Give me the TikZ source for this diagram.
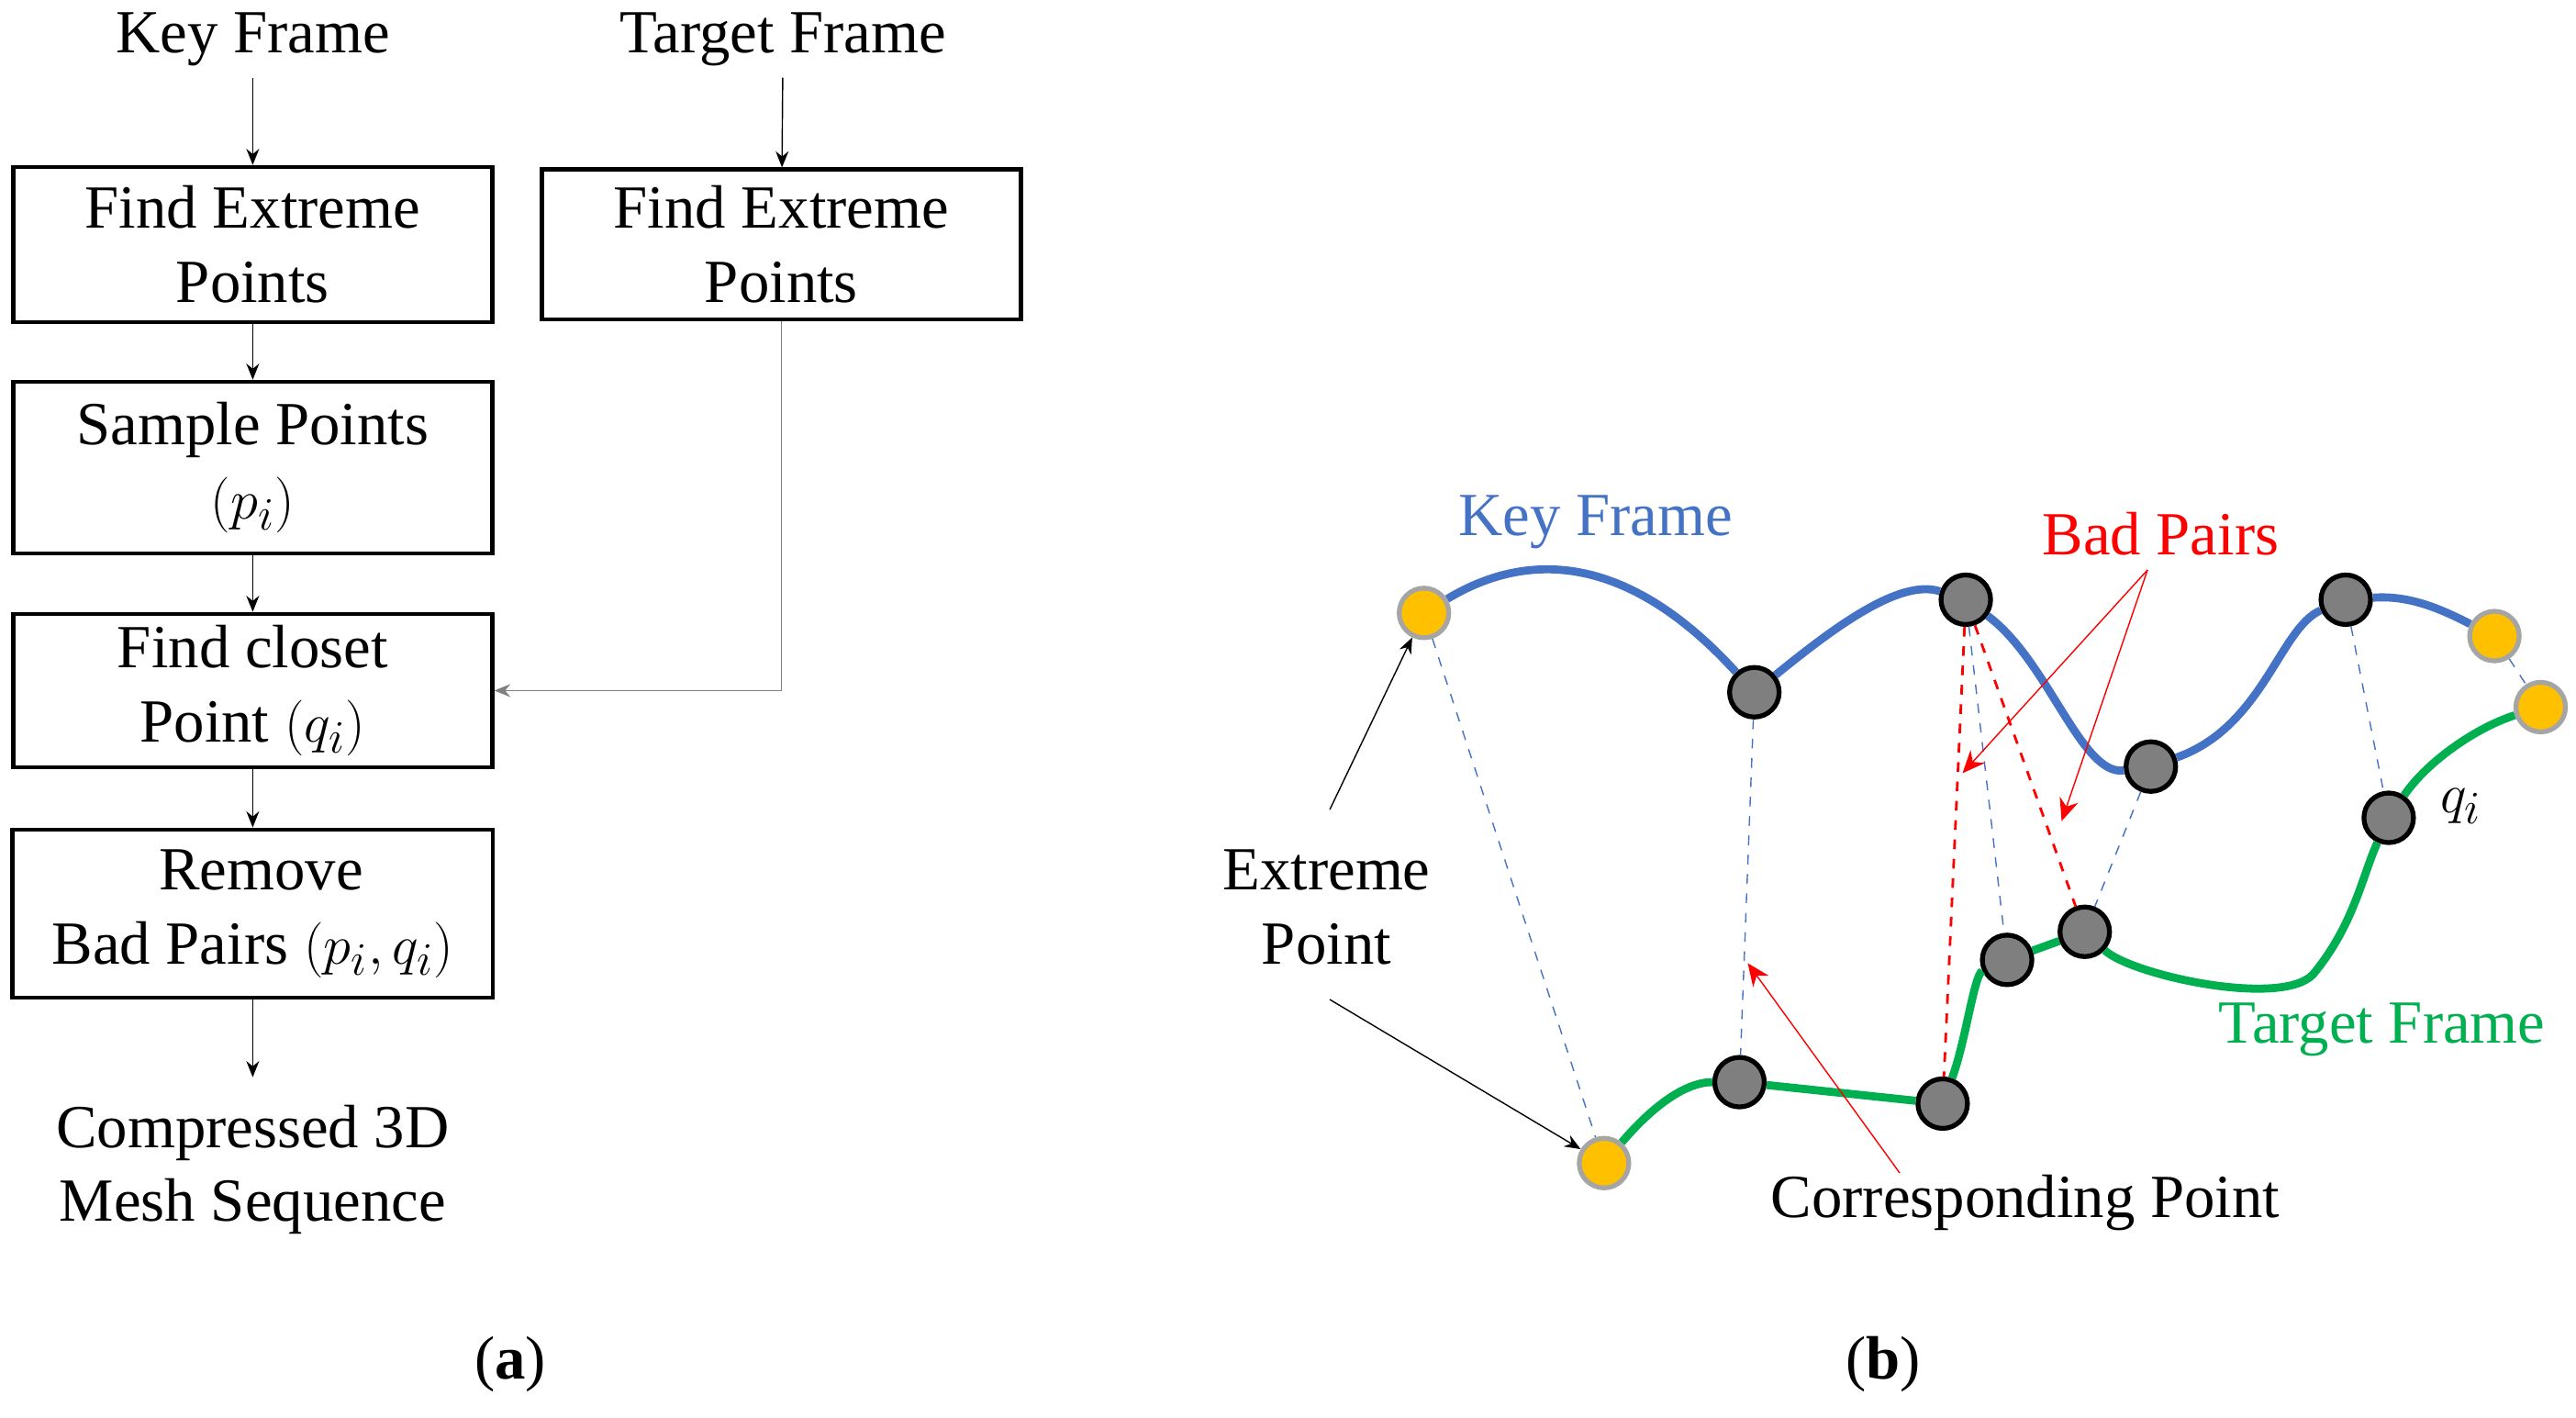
\documentclass[tikz,border=0pt]{standalone}
\usepackage{fontspec}
\setmainfont{Liberation Serif}
\newfontfamily\tnr{Liberation Serif}
\usetikzlibrary{arrows.meta}
\begin{document}
\begin{tikzpicture}[x=0.018cm,y=-0.018cm,
 every node/.style={font=\tnr\fontsize{19}{23}\selectfont},
 box/.style={draw,line width=1.2pt,minimum width=290*0.018cm,align=center,inner sep=0pt},
 arr/.style={-{Stealth[length=5pt,width=4pt]},thin},
 pt/.style={circle,draw=black,line width=1.5pt,minimum size=30*0.018cm,inner sep=0pt},
 gp/.style={pt,fill={rgb,255:red,127;green,127;blue,127}},
 yp/.style={pt,draw={rgb,255:red,165;green,165;blue,165},fill={rgb,255:red,255;green,192;blue,0}},
 bd/.style={dashed,thin,draw={rgb,255:red,68;green,114;blue,196}},
 rd/.style={dashed,thick,draw=red},
 ra/.style={thin,draw=red,-{Stealth[length=7pt,width=6pt]}}]
\useasboundingbox (0,0) rectangle (1559.4,857.8);
\definecolor{kblue}{RGB}{68,114,196}
\definecolor{tgreen}{RGB}{0,176,80}
% left panel
\node (kf) at (153,24) {Key Frame};
\node (tf) at (474,24) {Target Frame};
\node[box,minimum height=94*0.018cm] (b1) at (153,148) {Find Extreme\\Points};
\node[box,minimum height=91*0.018cm] (b2) at (473,148) {Find Extreme\\Points};
\node[box,minimum height=104*0.018cm] (b3) at (153,283) {Sample Points\\$(p_i)$};
\node[box,minimum height=93*0.018cm] (b4) at (153,418) {Find closet\\Point $(q_i)$};
\node[box,minimum height=102*0.018cm,minimum width=291*0.018cm] (b5) at (153,553) {\;Remove\\Bad Pairs $(p_i,q_i)$};
\node[align=center] (cm) at (153,708) {Compressed 3D\\Mesh Sequence};
\coordinate (cmt) at (153,652);
\draw[arr] (kf) -- (b1);
\draw[arr] (tf) -- (b2);
\draw[arr] (b1) -- (b3);
\draw[arr] (b3) -- (b4);
\draw[arr] (b4) -- (b5);
\draw[arr] (b5) -- (cmt);
\draw[arr,draw=gray] (b2.south) |- (b4.east);
\node (la) at (309,826) {(\textbf{a})};
\node (lb) at (1140,826) {(\textbf{b})};
% right panel
\node[gp] (k1) at (1062,419) {};
\node[gp] (k2) at (1190,363) {};
\node[gp] (k3) at (1302,464) {};
\node[gp] (k4) at (1420,363) {};
\node[yp] (k0) at (862,371) {};
\node[yp] (k5) at (1510,385) {};
\node[yp] (t0) at (971,704) {};
\node[gp] (t1) at (1053,655) {};
\node[gp] (t2) at (1176,668) {};
\node[gp] (t3) at (1215,581) {};
\node[gp] (t4) at (1262,564) {};
\node[gp] (t5) at (1446,495) {};
\node[yp] (t6) at (1538,428) {};
\draw[line width=2.5pt,kblue] (k0) .. controls (930,330) and (990,340) .. (k1)
 .. controls (1110,380) and (1150,350) .. (k2)
 .. controls (1240,400) and (1260,470) .. (k3)
 .. controls (1370,440) and (1380,380) .. (k4)
 .. controls (1460,360) and (1480,370) .. (k5);
\draw[line width=2.5pt,tgreen] (t0) .. controls (1000,670) and (1020,655) .. (t1)
 -- (t2) .. controls (1190,630) and (1195,590) .. (t3)
 -- (t4) .. controls (1290,590) and (1380,610) .. (1400,590)
 .. controls (1425,560) and (1430,530) .. (t5)
 .. controls (1470,460) and (1500,440) .. (t6);
\draw[bd] (k0) -- (t0);
\draw[bd] (k1) -- (t1);
\draw[bd] (k2) -- (t3);
\draw[bd] (k3) -- (t4);
\draw[bd] (k4) -- (t5);
\draw[bd] (k5) -- (t6);
\draw[rd] (k2) -- (t2);
\draw[rd] (k2) -- (t4);
\node[text=kblue] (lkf) at (966,316) {Key Frame};
\node[text=red] (lbp) at (1308,323) {Bad Pairs};
\coordinate (bpa) at (1188,468);
\coordinate (bpb) at (1248,497);
\draw[ra] (1300,345) -- (bpa);
\draw[ra] (1300,345) -- (bpb);
\node[align=center] (lep) at (803,549) {Extreme\\Point};
\draw[arr] (805,490) -- (k0);
\draw[arr] (805,605) -- (t0);
\node (lq) at (1490,488) {$q_i$};
\node[text=tgreen] (ltf) at (1442,623) {Target Frame};
\node (lcp) at (1226,728) {Corresponding Point};
\coordinate (cpa) at (1058,583);
\draw[ra] (1150,710) -- (cpa);
\end{tikzpicture}
\end{document}
